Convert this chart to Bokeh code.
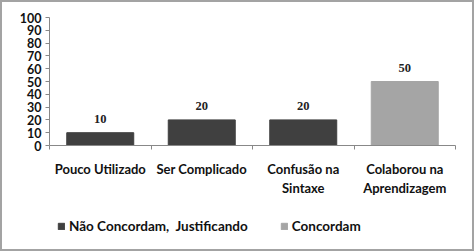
from bokeh.plotting import figure
from bokeh.layouts import column
from bokeh.models import ColumnDataSource, FixedTicker, Legend, LegendItem, LabelSet, Range1d
from bokeh.embed import file_html
from bokeh.resources import INLINE

categories = ["Pouco Utilizado", "Ser Complicado", "Confusão na\nSintaxe", "Colaborou na\nAprendizagem"]
series_names = ["Não Concordam,  Justificando", "Concordam"]
values = [10, 20, 20, 50]
series_of_bar = [0, 0, 0, 1]
colors = ["#404040", "#a5a5a5"]
y_ticks = [0, 10, 20, 30, 40, 50, 60, 70, 80, 90, 100]

FONT = "Lato"

p = figure(width=470, height=200, output_backend="svg", toolbar_location=None,
           x_range=Range1d(0, len(categories)), y_range=Range1d(0, 100),
           min_border_left=47, min_border_right=17, min_border_top=15, min_border_bottom=57)
p.outline_line_color = None
p.grid.visible = False
p.background_fill_color = "white"
p.border_fill_color = "white"

sources = []
for s, name in enumerate(series_names):
    xs = [i + 0.5 for i, k in enumerate(series_of_bar) if k == s]
    ys = [values[i] for i, k in enumerate(series_of_bar) if k == s]
    src = ColumnDataSource(dict(x=xs, top=ys, label=[str(v) for v in ys]))
    sources.append(src)
    p.vbar(x="x", top="top", width=0.66, source=src, fill_color=colors[s], line_color=colors[s])
    lab = LabelSet(x="x", y="top", text="label", source=src, text_align="center",
                   text_baseline="bottom", y_offset=10, text_font=FONT, text_font_style="bold",
                   text_font_size="12.5px", text_color="#222222")
    p.add_layout(lab)

# x axis
xa = p.xaxis[0]
xa.ticker = FixedTicker(ticks=[i + 0.5 for i in range(len(categories))],
                        minor_ticks=list(range(len(categories) + 1)))
xa.major_label_overrides = {i + 0.5: c for i, c in enumerate(categories)}
xa.major_tick_out = 0
xa.major_tick_in = 0
xa.minor_tick_out = 4
xa.minor_tick_in = 0
xa.minor_tick_line_color = "#888888"
xa.axis_line_color = "#888888"
xa.major_label_text_font = FONT
xa.major_label_text_font_style = "bold"
xa.major_label_text_font_size = "13px"
xa.major_label_text_color = "#111111"
xa.major_label_standoff = 11

ya = p.yaxis[0]
ya.ticker = FixedTicker(ticks=y_ticks, minor_ticks=[])
ya.major_tick_out = 4
ya.major_tick_in = 0
ya.major_tick_line_color = "#888888"
ya.axis_line_color = "#888888"
ya.major_label_text_font = FONT
ya.major_label_text_font_style = "bold"
ya.major_label_text_font_size = "12.5px"
ya.major_label_text_color = "#111111"
ya.major_label_standoff = 4

# legend strip below the chart
lg = figure(width=470, height=47, output_backend="svg", toolbar_location=None,
            x_range=Range1d(0, 1), y_range=Range1d(0, 1),
            min_border=0, min_border_left=0, min_border_right=0, min_border_top=0, min_border_bottom=0)
lg.axis.visible = False
lg.grid.visible = False
lg.outline_line_color = None
lg.border_fill_color = "white"
lg_renderers = []
for s in range(len(series_names)):
    r = lg.vbar(x="x", top="top", width=0.66, source=sources[s],
                fill_color=colors[s], line_color=colors[s], visible=False)
    lg_renderers.append(r)
legend = Legend(items=[LegendItem(label=series_names[i], renderers=[lg_renderers[i]]) for i in range(2)],
                orientation="horizontal", location=(8, 15), border_line_color=None,
                background_fill_alpha=0, inactive_fill_alpha=0,
                label_text_font=FONT, label_text_font_style="bold", label_text_font_size="13.5px",
                label_text_color="#111111", glyph_width=8, glyph_height=8, spacing=32,
                label_standoff=4, padding=0, margin=0)
lg.add_layout(legend)

layout = column(p, lg, spacing=0)
layout.styles = {"border": "2px solid #a3a3a3"}

open("out.html", "w").write(file_html(layout, INLINE))
